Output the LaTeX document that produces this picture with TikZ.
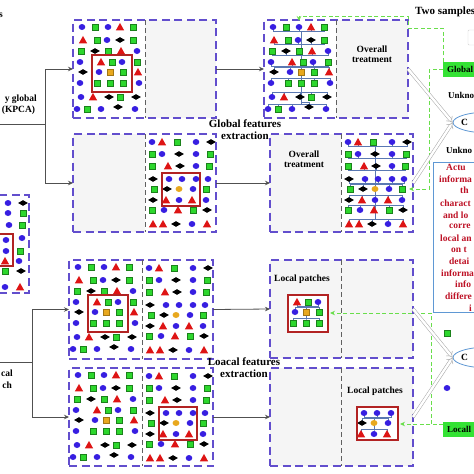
\documentclass[tikz,border=0pt]{standalone}
\usepackage{fontspec}
\setmainfont{Liberation Serif}
\usetikzlibrary{arrows.meta,shapes.geometric}
\definecolor{pborder}{RGB}{98,78,205}
\definecolor{cblue}{RGB}{55,30,225}
\definecolor{sgreen}{RGB}{45,215,45}
\definecolor{tred}{RGB}{222,20,20}
\definecolor{oorange}{RGB}{232,168,30}
\definecolor{rboxc}{RGB}{178,35,35}
\definecolor{gline}{RGB}{105,222,75}
\definecolor{graphc}{RGB}{90,120,178}
\definecolor{txtred}{RGB}{190,18,38}
\definecolor{bboxc}{RGB}{95,152,212}
\definecolor{arrowc}{RGB}{80,80,80}
\definecolor{gboxc}{RGB}{52,226,52}
\newcommand\pshc[2]{\fill[cblue] (#1,#2) ellipse [x radius=3.3pt, y radius=3.0pt];}
\newcommand\pshq[2]{\fill[oorange] (#1,#2) ellipse [x radius=3.4pt, y radius=3.0pt];}
\newcommand\pshs[2]{\filldraw[fill=sgreen,draw=sgreen!60!black,line width=0.3pt,shift={(#1,#2)}] (-3.2,-3.2) rectangle (3.2,3.2);}
\newcommand\psho[2]{\filldraw[fill=oorange,draw=oorange!70!black,line width=0.3pt,shift={(#1,#2)}] (-3.2,-3.2) rectangle (3.2,3.2);}
\newcommand\psht[2]{\fill[tred,shift={(#1,#2)}] (-4.1,3.3) -- (4.1,3.3) -- (0,-4.1) -- cycle;}
\newcommand\pshd[2]{\fill[black,shift={(#1,#2)}] (-4.9,0) -- (0,-2.8) -- (4.9,0) -- (0,2.8) -- cycle;}
\newcommand\pdraw[3]{\begin{scope}[shift={(#1,#2)}]\foreach \typ/\px/\py in #3 {\csname psh\typ\endcsname{\px}{\py}}\end{scope}}
\newcommand\gdraw[5]{\begin{scope}[shift={(#1,#2)}]\foreach \typ/\px/\py in #3 {\pgfmathsetmacro\off{(\py<#5)?4.5:-4.5}\draw[graphline] (\px,\py) -- (\px,\py+\off) -| (#4,#5);}\end{scope}}
\def\patA{c/9/7,s/22/7,c/35/7,t/47/7,s/60/7,t/10/20,s/24/20,c/34/20,d/47/20,s/60/20,s/8/31,d/22/31,s/35/31,t/48/31,c/64/31,c/7/42,t/28/42,s/39/42,c/49/42,s/64/42,d/10/52,c/26/52,o/37/52,s/50/52,t/65/52,c/7/63,s/24/63,s/37/63,s/50/63,c/66/63,c/8/77,t/20/77,d/36/77,s/47/77,d/63/77,c/4/89,s/14/89,c/28/89,d/45/87,c/62/89}
\def\patC{c/7/8,t/17/8,s/32/8,c/51/8,d/66/8,s/7/20,c/17/20,d/34/20,c/51/20,s/65/20,s/7/32,t/23/32,d/35/32,c/51/32,s/64/32,d/8/45,c/24/45,c/37/45,c/51/45,c/63/45,s/9/55,d/22/55,q/34/55,c/48/55,s/61/55,d/8/66,t/21/66,c/34/66,t/47/66,c/61/66,s/7/76,c/19/76,t/33/76,s/48/76,d/62/76,t/8/90,t/18/90,d/31/90,c/47/90,t/62/90}
\def\patAred{t/28/42,s/39/42,c/49/42,c/26/52,o/37/52,s/50/52,s/24/63,s/37/63,s/50/63}
\def\patCred{c/24/45,c/37/45,c/51/45,d/22/55,q/34/55,c/48/55,t/21/66,c/34/66,t/47/66}
\def\patZ{c/8/203,d/23/203,c/8/213,s/23/213,c/9/225,s/22/225,c/6/240,c/22/238,c/6/251,s/20/251,t/5/261,c/19/261,s/5/271,d/21/271,c/5/287,t/20/287}
\begin{document}
\begin{tikzpicture}[x=1pt,y=-1pt,
  panel/.style={draw=pborder, line width=1.5pt, dash pattern=on 8pt off 4.5pt, inner sep=0pt, outer sep=0pt, minimum width=143, minimum height=98},
  divider/.style={draw=gray!75!black, line width=0.9pt, dash pattern=on 5pt off 3pt},
  halfbg/.style={fill=gray!8},
  redrect/.style={draw=rboxc, line width=1.2pt},
  graphline/.style={draw=graphc, line width=0.55pt},
  conn/.style={draw=arrowc, line width=0.8pt, -{Stealth[length=5pt,width=4.5pt]}},
  plainline/.style={draw=arrowc, line width=0.8pt},
  gdash/.style={draw=gline, line width=0.9pt, dash pattern=on 4pt off 2.5pt, -{Stealth[length=5pt,width=4.5pt]}},
  hollow/.style={draw=gray!70, line width=0.5pt, double=white, double distance=2.4pt, -{Implies}},
  lbl/.style={font=\fontsize{9.5}{11}\selectfont\bfseries, inner sep=0pt},
  big/.style={font=\fontsize{11}{12}\selectfont\bfseries, inner sep=0pt, align=center},
  ttl/.style={font=\fontsize{9.5}{10}\selectfont\bfseries, inner sep=0pt, align=center},
  small/.style={font=\fontsize{9}{10}\selectfont\bfseries, inner sep=0pt},
  rtext/.style={font=\fontsize{9.5}{11}\selectfont\bfseries, text=txtred, inner sep=0pt, anchor=west},
  gbox/.style={fill=gboxc, minimum height=15, text width=40, align=left, inner xsep=4pt, inner ysep=0pt, anchor=west, font=\fontsize{9}{10}\selectfont\bfseries},
  ell/.style={ellipse, draw=bboxc, line width=0.8pt, fill=white, minimum width=72, minimum height=21}
]
\useasboundingbox (0,0) rectangle (474,474);
\clip (0,0) rectangle (474,474);
\fill[white] (0,0) rectangle (474,474);

% half backgrounds
\fill[halfbg] (145,20) rectangle (216,118);
\fill[halfbg] (336,20) rectangle (408,118);
\fill[halfbg] (73,134) rectangle (145,232);
\fill[halfbg] (270,134) rectangle (341,232);
\fill[halfbg] (270,260) rectangle (413,358);
\fill[halfbg] (270,368) rectangle (413,466);

% small left panel
\pdraw{0}{0}{\patZ}
\draw[redrect] (-30,234) rectangle (13,266);
\node[panel, minimum width=80, anchor=north east] (Z) at (29,195) {};

% panel A
\pdraw{73}{20}{\patA}
\draw[redrect] (92,55) rectangle (132,92);
% panel B
\gdraw{264}{20}{\patA}{37}{52}
\pdraw{264}{20}{\patA}
% panel C
\pdraw{145}{134}{\patC}
\draw[redrect] (162,173) rectangle (200,206);
% panel D
\gdraw{341}{134}{\patC}{34}{55}
\pdraw{341}{134}{\patC}
% panel E
\pdraw{69}{260}{\patA}
\draw[redrect] (88,295) rectangle (128,332);
\pdraw{142}{260}{\patC}
% panel F
\pdraw{69}{368}{\patA}
\pdraw{142}{368}{\patC}
\draw[redrect] (159,407) rectangle (197,440);
% panel G patch
\fill[white] (288,295) rectangle (328,332);
\gdraw{269}{260}{\patAred}{37}{52}
\pdraw{269}{260}{\patAred}
\draw[redrect, line width=1.5pt] (288,295) rectangle (328,332);
% panel H patch
\fill[white] (357,407) rectangle (398,440);
\gdraw{340}{368}{\patCred}{34}{55}
\pdraw{340}{368}{\patCred}
\draw[redrect, line width=1.5pt] (357,407) rectangle (398,440);

% panels
\node[panel] (A) at (144.5,69) {};
\draw[divider] (145,20) -- (145,118);
\node[panel, minimum width=144] (B) at (336,69) {};
\draw[divider] (336,20) -- (336,118);
\node[panel] (C) at (144.5,183) {};
\draw[divider] (145,134) -- (145,232);
\node[panel] (D) at (341.5,183) {};
\draw[divider] (341,134) -- (341,232);
\node[panel, minimum width=144, minimum height=99] (E) at (141,309.5) {};
\draw[divider] (142,260) -- (142,359);
\node[panel, minimum width=144] (F) at (141,417) {};
\draw[divider] (142,368) -- (142,466);
\node[panel] (G) at (341.5,309) {};
\draw[divider] (341,260) -- (341,358);
\node[panel] (H) at (341.5,417) {};
\draw[divider] (341,368) -- (341,466);

% texts in panels
\node[ttl] (tB) at (372,54) {Overall\\treatment};
\node[ttl] (tD) at (304,159) {Overall\\treatment};
\node[ttl] (tG) at (302,279) {Local patches};
\node[ttl] (tH) at (375,391) {Local patches};

% labels
\node[lbl, anchor=east] (s0) at (3,15) {s};
\node[lbl, anchor=east] (L1a) at (37,99) {y global};
\node[lbl] (L1b) at (18.5,110) {(KPCA)};
\node[lbl, anchor=east] (L2a) at (13,373) {cal};
\node[lbl, anchor=east] (L2b) at (12,385) {ch};
\node[big] (gfe) at (245,130) {Global features\\extraction};
\node[big] (lfe) at (244,368) {Loacal features\\extraction};
\node[big, anchor=west] (two) at (415,12) {Two samples};

% left connectors
\coordinate (s1) at (0,124);
\coordinate (j1) at (45,124);
\draw[plainline] (s1) -- (j1);
\draw[conn] (j1) |- (A.west);
\draw[conn] (j1) |- (C.west);
\coordinate (s2) at (0,362);
\coordinate (j2) at (32,362);
\draw[plainline] (s2) -- (j2);
\draw[conn] (j2) |- (E.west);
\draw[conn] (j2) |- (F.west);
\draw[conn] (A.east) -- (B.west);
\draw[conn] (C.east) -- (D.west);
\draw[conn] (E.east) -- (G.west);
\draw[conn] (F.east) -- (H.west);

% right column
\draw[gray!35, rounded corners=1pt] (468,30) rectangle (485,45);
\node[gbox] (Gb) at (443,69.5) {Global};
\node[gbox] (Lb) at (443,429.5) {Locall};
\node[small, anchor=west] (u1) at (448,95) {Unkno};
\node[small, anchor=west] (u2) at (446,150) {Unkno};
\node[draw=bboxc, line width=0.9pt, fill=white, anchor=north west, minimum width=60, minimum height=150, inner sep=0pt] (TB) at (433,162) {};
\foreach \tx/\xx/\yy [count=\i] in {Actu/446/167, informa/439/179, th/460/190, charact/440/203, and lo/443/215, corre/449/226, local an/440/238, on t/451/250, detai/449/261, informa/441/273, info/455/284, differe/445/296, i/469/308}
  {\node[rtext] (rt\i) at (\xx,\yy) {\tx};}
\node[ell] (E1) at (489,122.5) {};
\node[lbl, anchor=west] (E1t) at (461,122.5) {C};
\node[ell] (E2) at (489,357.5) {};
\node[lbl, anchor=west] (E2t) at (461,357.5) {C};
\pshs{447}{333}
\pshc{447}{388}

% green dashed connectors
\coordinate (gB) at (299,21);
\draw[gdash] (Gb.north west) -- (443,28) -- (408,28) -- (408,16) -- (299,16) -- (gB);
\coordinate (gD) at (409,189);
\draw[gdash] (Gb.west) -| (429,189) -- (gD);
\coordinate (gH) at (400,424);
\coordinate (jL) at (431,424);
\coordinate (gG) at (330,313);
\draw[gdash] ([yshift=5.5pt]Lb.west) -- (gH);
\draw[gdash] (jL) |- (gG);

% hollow arrows
\draw[hollow] (B.east) -- (E1.west);
\draw[hollow] (D.east) -- (E1.west);
\draw[hollow] (G.east) -- (E2.west);
\draw[hollow] (H.east) -- (E2.west);
\end{tikzpicture}
\end{document}
